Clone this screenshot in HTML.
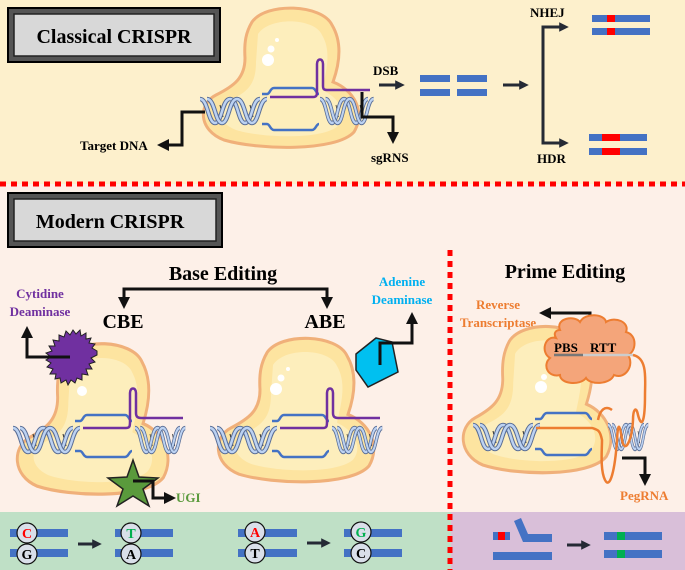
<!DOCTYPE html>
<html><head><meta charset="utf-8"><style>
html,body{margin:0;padding:0;background:#fff}
svg{display:block;font-family:"Liberation Serif",serif;font-weight:bold}
</style></head><body>
<svg width="685" height="570" viewBox="0 0 685 570" xmlns="http://www.w3.org/2000/svg">
<defs>
<g id="strand">
 <path d="M0,3 C8,3 8,27 15,27 C22,27 22,3 30,3 C38,3 38,27 45,27 C52,27 52,3 60,3" fill="none" stroke="#5a6e96" stroke-width="4.5"/>
 <path d="M0,3 C8,3 8,27 15,27 C22,27 22,3 30,3 C38,3 38,27 45,27 C52,27 52,3 60,3" fill="none" stroke="#bcd2f2" stroke-width="2.5"/>
</g>
<g id="helix">
 <g stroke="#333" stroke-width="1"><line x1="6" y1="9" x2="9" y2="21"/><line x1="20" y1="9" x2="23" y2="21"/><line x1="36" y1="9" x2="39" y2="21"/><line x1="50" y1="9" x2="53" y2="21"/></g>
 <use href="#strand"/>
 <use href="#strand" x="7"/>
</g>
<g id="blob">
 <path d="M252,22 C266,2 322,4 332,25 C344,45 338,68 333,82 C354,90 366,112 354,132 C336,152 258,150 224,140 C198,130 198,104 216,95 C234,86 245,78 245,58 C244,42 246,32 252,22 Z" fill="#fde4a0" stroke="#f0b07a" stroke-width="3"/>
 <path d="M258,34 C270,16 315,18 322,35 C332,52 326,72 322,90 C340,98 348,114 338,126 C322,140 262,138 236,130 C216,122 216,106 230,100 C248,92 256,84 256,62 Z" fill="#fdeebc"/>
</g>
<g id="bubble">
 <path d="M0,0 H5 C8,0 8,-6 12,-6 H50 C54,-6 54,0 57,0" fill="none" stroke="#4472c4" stroke-width="2.5"/>
 <path d="M0,30 H5 C8,30 8,36 12,36 H50 C54,36 54,30 57,30" fill="none" stroke="#4472c4" stroke-width="2.5"/>
</g>
<marker id="ah" viewBox="0 0 10 10" refX="5" refY="5" markerWidth="4" markerHeight="4" orient="auto"><path d="M0,0 L10,5 L0,10 Z" fill="#111"/></marker>
<marker id="ad" viewBox="0 0 10 10" refX="5" refY="5" markerWidth="3.2" markerHeight="3.2" orient="auto"><path d="M0,0 L10,5 L0,10 Z" fill="#252a35"/></marker>
</defs>

<rect x="0" y="0" width="685" height="184" fill="#fdf0cc"/>
<rect x="0" y="184" width="685" height="328" fill="#fdf0e8"/>
<rect x="0" y="512" width="451" height="58" fill="#bfe0c6"/>
<rect x="451" y="512" width="234" height="58" fill="#d9bfd9"/>
<line x1="0" y1="184" x2="685" y2="184" stroke="#f00" stroke-width="5" stroke-dasharray="6,5"/>
<line x1="450" y1="250" x2="450" y2="570" stroke="#f00" stroke-width="5" stroke-dasharray="6,5"/>

<g>
 <rect x="8" y="8" width="212" height="54" fill="#555" stroke="#000" stroke-width="2"/>
 <rect x="14" y="14" width="200" height="42" fill="#d8d8d8" stroke="#222" stroke-width="1.5"/>
 <text x="114" y="43" text-anchor="middle" font-size="20">Classical CRISPR</text>
 <rect x="8" y="193" width="214" height="54" fill="#555" stroke="#000" stroke-width="2"/>
 <rect x="14" y="199" width="202" height="42" fill="#d8d8d8" stroke="#222" stroke-width="1.5"/>
 <text x="110" y="228" text-anchor="middle" font-size="20">Modern CRISPR</text>
</g>

<!-- Classical -->
<use href="#blob"/>
<circle cx="268" cy="60" r="6" fill="#fff"/><circle cx="271" cy="49" r="3.5" fill="#fff"/><circle cx="277" cy="40" r="2" fill="#fff"/>
<use href="#helix" x="200" y="96"/>
<use href="#helix" x="320" y="96" transform="translate(320,96) scale(0.8,1) translate(-320,-96)"/>
<use href="#bubble" x="262" y="94"/>
<path d="M270,97 H313 C317,97 317,95 317,90 V64 C317,58 323,58 323,64 V86 C323,90 325,90 328,90 H370" fill="none" stroke="#7030a0" stroke-width="2.5"/>
<path d="M362,92 V117 H393 V138" fill="none" stroke="#111" stroke-width="3" marker-end="url(#ah)"/>
<path d="M205,112 H182 V145 H163" fill="none" stroke="#111" stroke-width="3" marker-end="url(#ah)"/>
<text x="80" y="150" font-size="13">Target DNA</text>
<text x="371" y="162" font-size="13">sgRNS</text>
<text x="373" y="75" font-size="13">DSB</text>
<line x1="379" y1="85" x2="400" y2="85" stroke="#252a35" stroke-width="3" marker-end="url(#ad)"/>
<g fill="#4472c4"><rect x="420" y="75" width="30" height="7"/><rect x="420" y="89" width="30" height="7"/><rect x="457" y="75" width="30" height="7"/><rect x="457" y="89" width="30" height="7"/></g>
<line x1="503" y1="85" x2="524" y2="85" stroke="#252a35" stroke-width="3" marker-end="url(#ad)"/>
<path d="M565,27 H543 V143 H563" fill="none" stroke="#252a35" stroke-width="3"/>
<line x1="555" y1="27" x2="564" y2="27" stroke="#252a35" stroke-width="3" marker-end="url(#ad)"/>
<line x1="555" y1="143" x2="564" y2="143" stroke="#252a35" stroke-width="3" marker-end="url(#ad)"/>
<text x="530" y="17" font-size="13">NHEJ</text>
<text x="537" y="163" font-size="13">HDR</text>
<g fill="#4472c4"><rect x="592" y="15" width="58" height="7"/><rect x="592" y="28" width="58" height="7"/><rect x="589" y="134" width="58" height="7"/><rect x="589" y="148" width="58" height="7"/></g>
<g fill="#f00"><rect x="607" y="15" width="8" height="7"/><rect x="607" y="28" width="8" height="7"/><rect x="602" y="134" width="18" height="7"/><rect x="602" y="148" width="18" height="7"/></g>

<!-- Base editing -->
<text x="223" y="280" text-anchor="middle" font-size="20">Base Editing</text>
<path d="M124,302 V289 H327 V302" fill="none" stroke="#111" stroke-width="3"/>
<line x1="124" y1="296" x2="124" y2="303" stroke="#111" stroke-width="3" marker-end="url(#ah)"/>
<line x1="327" y1="296" x2="327" y2="303" stroke="#111" stroke-width="3" marker-end="url(#ah)"/>
<text x="123" y="328" text-anchor="middle" font-size="20">CBE</text>
<text x="325" y="328" text-anchor="middle" font-size="20">ABE</text>
<text x="40" y="298" text-anchor="middle" font-size="13" fill="#7030a0">Cytidine</text>
<text x="40" y="316" text-anchor="middle" font-size="13" fill="#7030a0">Deaminase</text>
<text x="402" y="286" text-anchor="middle" font-size="13" fill="#00b0f0">Adenine</text>
<text x="402" y="304" text-anchor="middle" font-size="13" fill="#00b0f0">Deaminase</text>

<g transform="translate(-180,335) scale(0.97,1.08)"><use href="#blob"/></g>
<g transform="translate(15,330) scale(1,1.03)"><use href="#blob"/></g>
<circle cx="82" cy="391" r="5" fill="#fff"/>
<circle cx="276" cy="389" r="6" fill="#fff"/><circle cx="281" cy="378" r="3.5" fill="#fff"/><circle cx="288" cy="369" r="2" fill="#fff"/>

<use href="#helix" x="13" y="425"/><use href="#helix" x="135" y="425" transform="translate(135,425) scale(0.75,1) translate(-135,-425)"/>
<use href="#bubble" x="75" y="421"/>
<path d="M83,428 H126 C130,428 130,426 130,421 V393 C130,387 136,387 136,393 V413 C136,417 138,418 141,418 H183" fill="none" stroke="#7030a0" stroke-width="2.5"/>
<use href="#helix" x="210" y="425"/><use href="#helix" x="332" y="425" transform="translate(332,425) scale(0.75,1) translate(-332,-425)"/>
<use href="#bubble" x="272" y="421"/>
<path d="M280,428 H323 C327,428 327,426 327,421 V393 C327,387 333,387 333,393 V413 C333,417 335,418 338,418 H380" fill="none" stroke="#7030a0" stroke-width="2.5"/>

<polygon fill="#7030a0" stroke="#222" stroke-width="1" points="97,355 91,358 95,362 89,364 92,369 86,369 88,375 82,374 82,380 77,378 75,383 71,380 68,385 66,380 61,383 60,378 55,379 56,374 50,374 53,369 47,367 51,363 46,360 51,357 46,353 52,351 49,346 55,346 53,340 59,341 59,335 64,337 66,331 70,335 73,330 76,334 80,330 81,336 86,333 86,339 91,338 89,343 95,344 92,348 97,351"/>
<path d="M70,357 H27 V332" fill="none" stroke="#111" stroke-width="3" marker-end="url(#ah)"/>
<polygon points="356,354 376,338 392,342 398,372 368,387 356,370" fill="#00c0f0" stroke="#222" stroke-width="1.5"/>
<path d="M380,365 V343 H412 V318" fill="none" stroke="#111" stroke-width="3" marker-end="url(#ah)"/>
<polygon points="133,460 139,477 158,478 143,489 149,506 133,496 117,506 123,489 108,478 127,477" fill="#5a9a3c" stroke="#222" stroke-width="1.5"/>
<path d="M133,481 H153 V498 H170" fill="none" stroke="#111" stroke-width="3" marker-end="url(#ah)"/>
<text x="176" y="502" font-size="13" fill="#5a9a3c">UGI</text>

<g fill="#4472c4">
 <rect x="10" y="529" width="58" height="8"/><rect x="10" y="549" width="58" height="8"/>
 <rect x="115" y="529" width="58" height="8"/><rect x="115" y="549" width="58" height="8"/>
 <rect x="238" y="529" width="59" height="8"/><rect x="238" y="549" width="59" height="8"/>
 <rect x="344" y="529" width="58" height="8"/><rect x="344" y="549" width="58" height="8"/>
</g>
<g fill="#d9dfe9" stroke="#111" stroke-width="1.2">
 <circle cx="27" cy="533" r="10"/><circle cx="27" cy="554" r="10"/>
 <circle cx="131" cy="533" r="10"/><circle cx="131" cy="554" r="10"/>
 <circle cx="255" cy="532" r="10"/><circle cx="255" cy="553" r="10"/>
 <circle cx="361" cy="532" r="10"/><circle cx="361" cy="553" r="10"/>
</g>
<g font-size="14" text-anchor="middle">
 <text x="27" y="538" fill="#f00">C</text><text x="27" y="559">G</text>
 <text x="131" y="538" fill="#00b050">T</text><text x="131" y="559">A</text>
 <text x="255" y="537" fill="#f00">A</text><text x="255" y="558">T</text>
 <text x="361" y="537" fill="#00b050">G</text><text x="361" y="558">C</text>
</g>
<line x1="78" y1="544" x2="97" y2="544" stroke="#252a35" stroke-width="3" marker-end="url(#ad)"/>
<line x1="307" y1="543" x2="326" y2="543" stroke="#252a35" stroke-width="3" marker-end="url(#ad)"/>

<!-- Prime editing -->
<text x="565" y="278" text-anchor="middle" font-size="20">Prime Editing</text>
<text x="498" y="309" text-anchor="middle" font-size="13" fill="#ed7d31">Reverse</text>
<text x="498" y="327" text-anchor="middle" font-size="13" fill="#ed7d31">Transcriptase</text>
<g transform="translate(270,318) scale(0.95,1.05)"><use href="#blob"/></g>
<path d="M590,322 V313 H545" fill="none" stroke="#111" stroke-width="3" marker-end="url(#ah)"/>
<path d="M560,330 C555,318 575,315 580,322 C585,312 605,314 606,322 C615,316 630,322 626,332 C638,335 636,352 628,355 C635,365 625,380 614,375 C610,385 590,385 586,378 C580,386 560,384 560,375 C548,378 542,365 550,358 C540,352 545,335 556,338 C553,333 556,330 560,330 Z" fill="#f4a57a" stroke="#ed7d31" stroke-width="2"/>
<circle cx="541" cy="387" r="6" fill="#fff"/><circle cx="544" cy="377" r="3" fill="#fff"/>
<text x="554" y="352" font-size="13">PBS</text><text x="590" y="352" font-size="13">RTT</text>
<line x1="554" y1="355" x2="583" y2="355" stroke="#777" stroke-width="2.5"/>
<line x1="583" y1="355" x2="633" y2="355" stroke="#ccc" stroke-width="2.5"/>
<use href="#helix" x="473" y="422"/><use href="#helix" x="608" y="422" transform="translate(608,422) scale(0.6,1) translate(-608,-422)"/>
<use href="#bubble" x="535" y="419"/>
<path d="M633,355 C648,358 645,380 645,395 C645,420 642,430 638,415 C636,405 633,410 633,420 C632,440 625,455 622,440 C620,425 618,420 617,440 C615,470 610,490 605,480 C600,470 602,450 602,440 C600,430 598,430 592,428 H536" fill="none" stroke="#ed7d31" stroke-width="2.5"/>
<path d="M612,410 C605,405 600,410 598,420" fill="none" stroke="#ed7d31" stroke-width="2.5"/>
<path d="M622,458 H645 V480" fill="none" stroke="#111" stroke-width="3" marker-end="url(#ah)"/>
<text x="620" y="500" font-size="13" fill="#ed7d31">PegRNA</text>

<g fill="#4472c4">
 <rect x="493" y="532" width="17" height="8"/>
 <polygon points="514,521 521,518 528,534 552,534 552,542 523,542"/>
 <rect x="493" y="552" width="59" height="8"/>
 <rect x="604" y="532" width="58" height="8"/><rect x="604" y="550" width="58" height="8"/>
</g>
<rect x="498" y="532" width="7" height="8" fill="#f00"/>
<rect x="617" y="532" width="8" height="8" fill="#00b050"/><rect x="617" y="550" width="8" height="8" fill="#00b050"/>
<line x1="567" y1="545" x2="586" y2="545" stroke="#252a35" stroke-width="3" marker-end="url(#ad)"/>
</svg>
</body></html>
